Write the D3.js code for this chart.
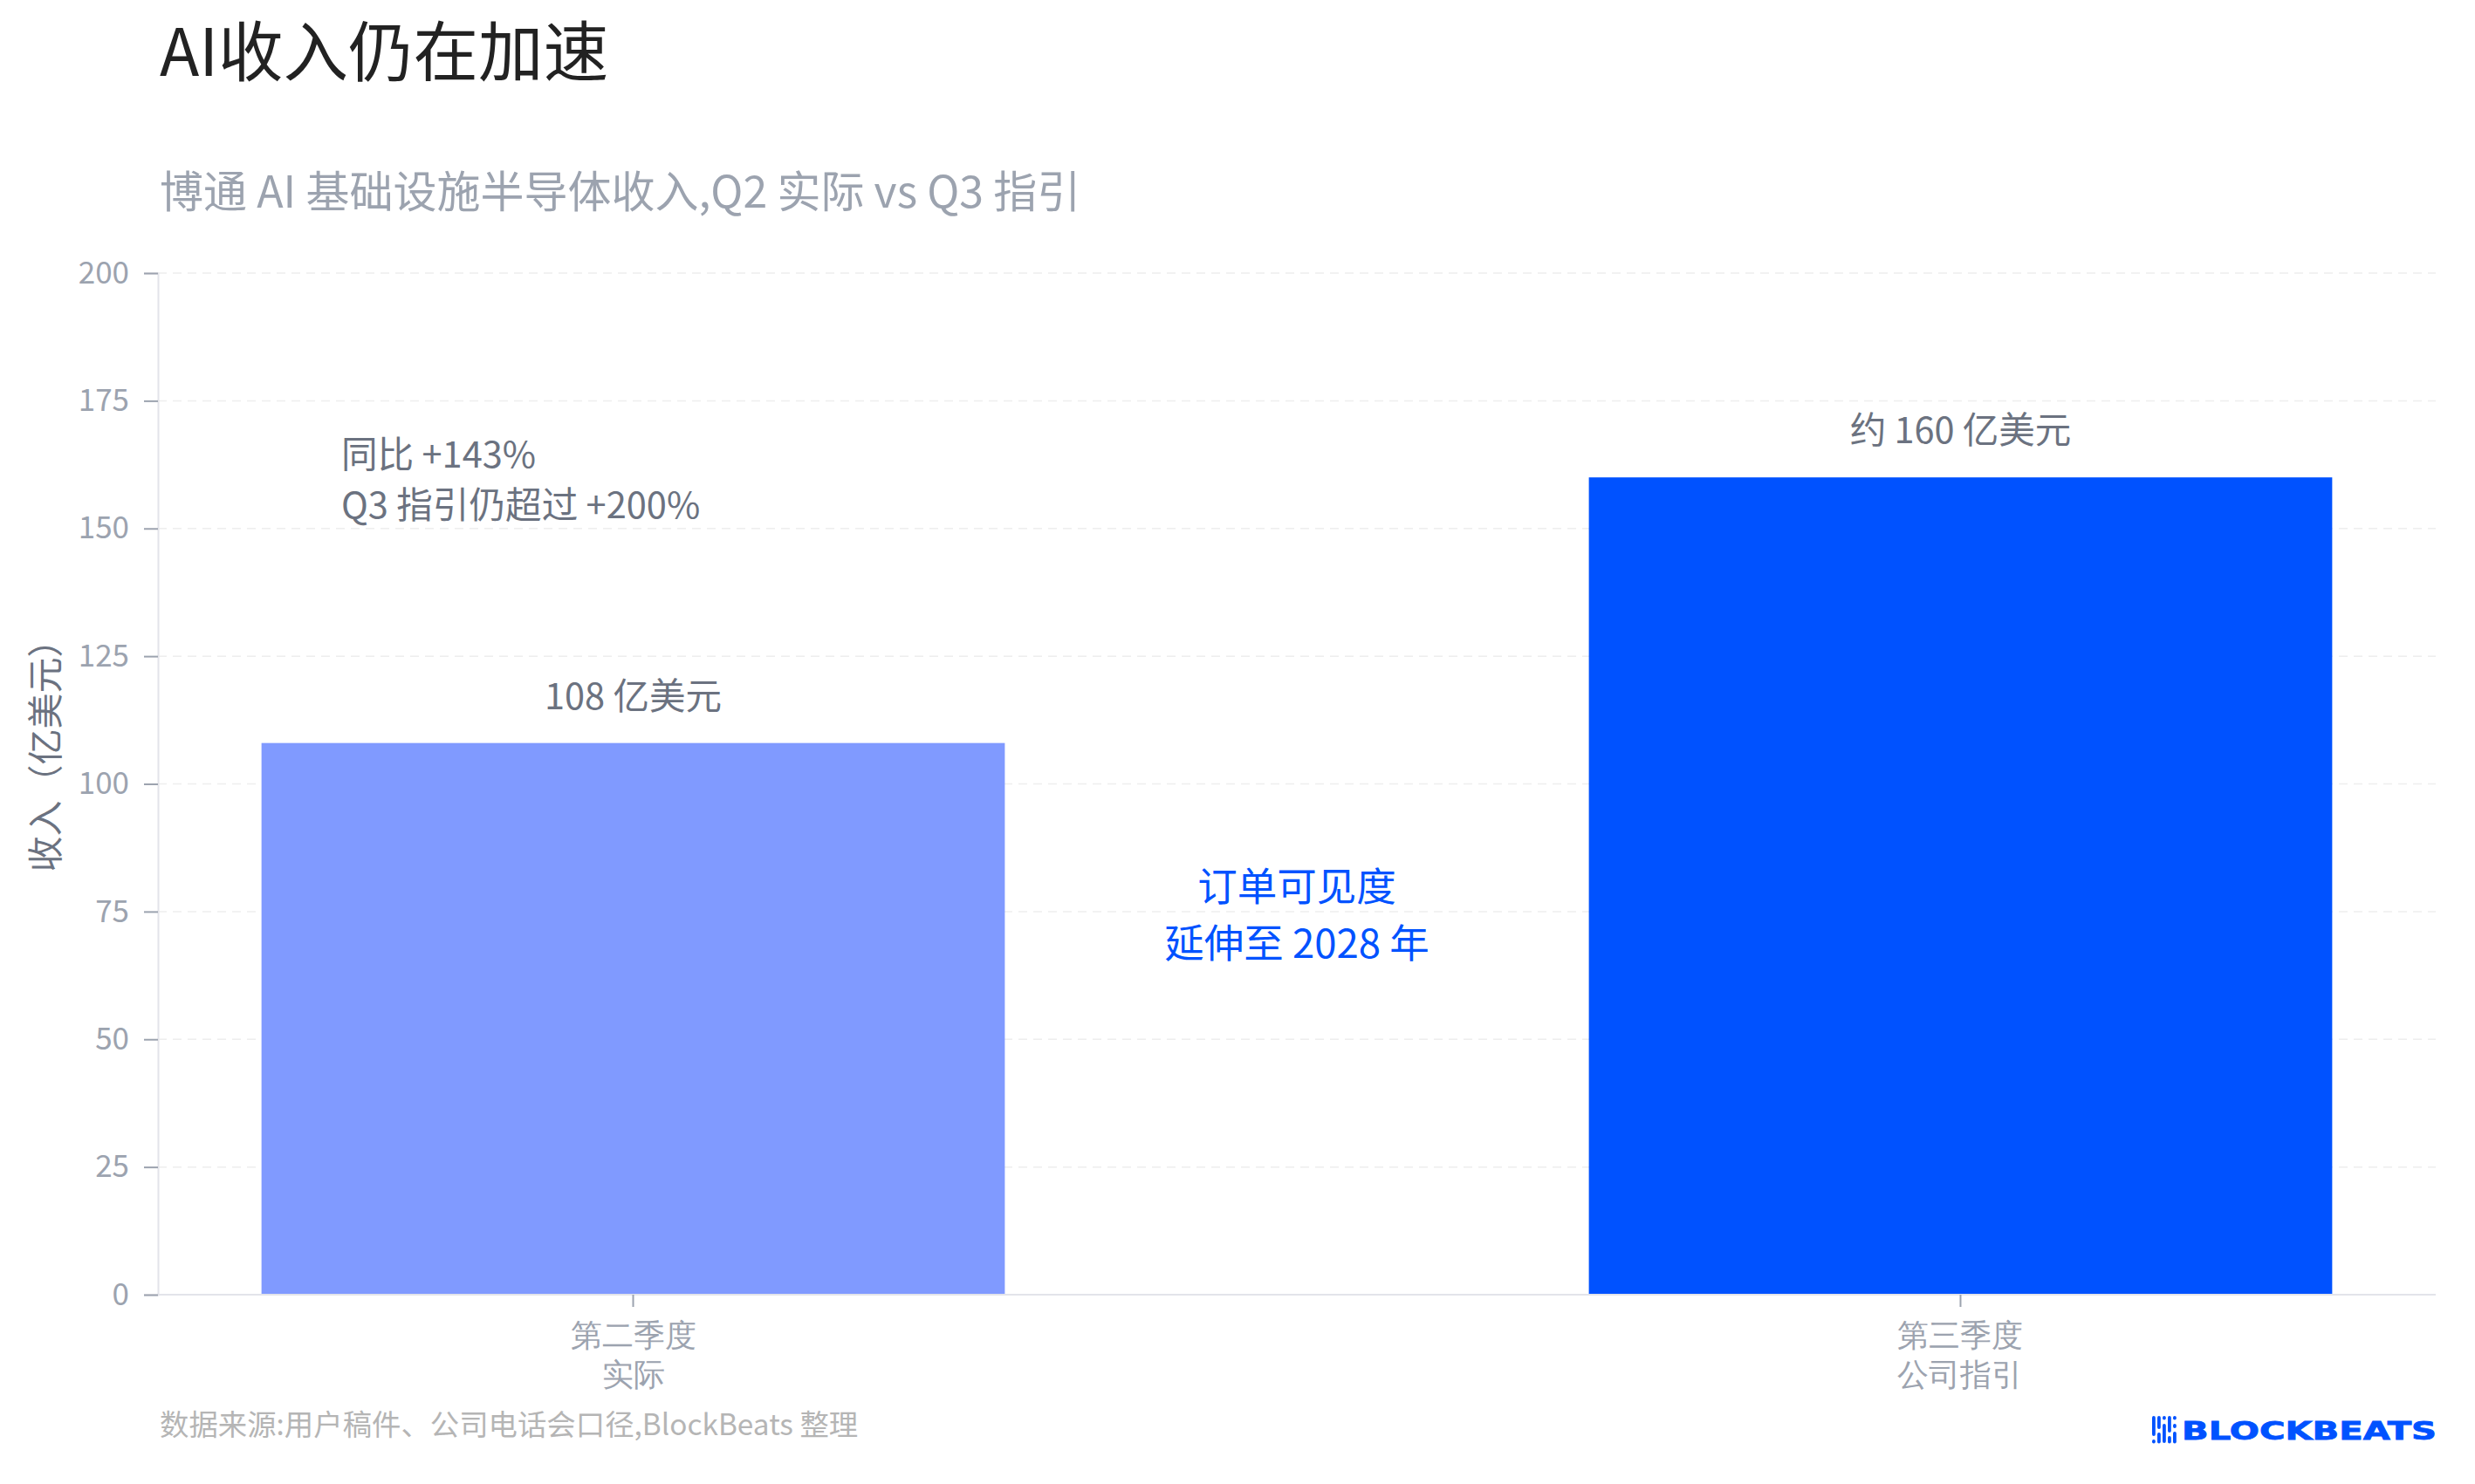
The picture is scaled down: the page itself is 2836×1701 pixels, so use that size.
<!DOCTYPE html>
<html>
<head>
<meta charset="utf-8">
<script src="https://cdn.jsdelivr.net/npm/d3@7/dist/d3.min.js"></script>
<style>
  html, body { margin: 0; padding: 0; background: #ffffff; }
  svg { display: block; font-family: "Noto Sans CJK SC", "Noto Sans", sans-serif; }
</style>
</head>
<body>
<svg id="chart" width="2836" height="1701"></svg>
<script>
// ---- data ----
const categories = ["第二季度\n实际", "第三季度\n公司指引"];
const values = [108, 160];
const valueLabels = ["108 亿美元", "约 160 亿美元"];
const barColors = ["#809AFF", "#0052FF"];
const yTicks = [0, 25, 50, 75, 100, 125, 150, 175, 200];
const titleText = "AI收入仍在加速";
const subtitleText = "博通 AI 基础设施半导体收入,Q2 实际 vs Q3 指引";
const yAxisTitle = "收入（亿美元）";
const noteLeft = ["同比 +143%", "Q3 指引仍超过 +200%"];
const noteMid = ["订单可见度", "延伸至 2028 年"];
const footerText = "数据来源:用户稿件、公司电话会口径,BlockBeats 整理";
const logoText = "BLOCKBEATS";

// ---- layout ----
const W = 2836, H = 1701;
const m = { left: 181, right: 2791, top: 313, bottom: 1484 };
const svg = d3.select("#chart");

const x = d3.scaleBand().domain(categories).range([m.left, m.right])
  .paddingInner(0.44).paddingOuter(0.078);
const y = d3.scaleLinear().domain([0, 200]).range([m.bottom, m.top]);

// title & subtitle
svg.append("text").attr("x", 183).attr("y", 87)
  .attr("font-size", 74.5).attr("fill", "#222222").text(titleText);
svg.append("text").attr("x", 183).attr("y", 238)
  .attr("font-size", 50).attr("fill", "#9CA3AF").text(subtitleText);

// gridlines
svg.append("g").selectAll("line").data(yTicks.filter(d => d > 0)).join("line")
  .attr("x1", m.left).attr("x2", m.right)
  .attr("y1", d => y(d)).attr("y2", d => y(d))
  .attr("stroke", "#EEEEEE").attr("stroke-width", 1.5)
  .attr("stroke-dasharray", "10,7");

// y axis
const yAxis = svg.append("g").attr("transform", `translate(${m.left},0)`)
  .call(d3.axisLeft(y).tickValues(yTicks).tickSize(16).tickPadding(17));
yAxis.select(".domain").attr("stroke", "#E3E4EA").attr("stroke-width", 2);
yAxis.selectAll(".tick line").attr("stroke", "#9CA3AF").attr("stroke-width", 2);
yAxis.selectAll(".tick text").attr("font-size", 35).attr("fill", "#9CA3AF")
  .attr("font-family", "'Noto Sans CJK SC', sans-serif");

// bars
svg.append("g").selectAll("rect").data(values).join("rect")
  .attr("x", (d, i) => x(categories[i]))
  .attr("width", x.bandwidth())
  .attr("y", d => y(d))
  .attr("height", d => y(0) - y(d))
  .attr("fill", (d, i) => barColors[i]);

// x axis
const xAxis = svg.append("g").attr("transform", `translate(0,${m.bottom})`)
  .call(d3.axisBottom(x).tickSize(14).tickFormat(""));
xAxis.select(".domain").attr("stroke", "#E3E4EA").attr("stroke-width", 2)
  .attr("d", `M${m.left},0H${m.right}`);
xAxis.selectAll(".tick line").attr("stroke", "#9CA3AF").attr("stroke-width", 2);
xAxis.selectAll(".tick").each(function(d) {
  const lines = d.split("\n");
  d3.select(this).append("text")
    .selectAll("tspan").data(lines).join("tspan")
    .attr("x", 0).attr("y", (l, i) => 46 + i * 45)
    .attr("dominant-baseline", "central")
    .attr("text-anchor", "middle")
    .attr("font-size", 36).attr("fill", "#9CA3AF")
    .text(l => l);
});

// value labels
svg.append("g").selectAll("text").data(values).join("text")
  .attr("x", (d, i) => x(categories[i]) + x.bandwidth() / 2)
  .attr("y", d => y(d) - 57)
  .attr("text-anchor", "middle").attr("dominant-baseline", "central")
  .attr("font-size", 41.5).attr("fill", "#6B7280")
  .text((d, i) => valueLabels[i]);

// left annotation
svg.append("g").selectAll("text").data(noteLeft).join("text")
  .attr("x", 391).attr("y", (d, i) => 518 + i * 58)
  .attr("dominant-baseline", "central")
  .attr("font-size", 41.6).attr("fill", "#6B7280").text(d => d);

// middle annotation
const midX = (x(categories[0]) + x.bandwidth() + x(categories[1])) / 2;
svg.append("g").selectAll("text").data(noteMid).join("text")
  .attr("x", midX).attr("y", (d, i) => 1013 + i * 65)
  .attr("text-anchor", "middle").attr("dominant-baseline", "central")
  .attr("font-size", 45.5).attr("font-weight", 400).attr("fill", "#0052FF").text(d => d);

// y axis title
svg.append("text")
  .attr("transform", `translate(49,856) rotate(-90)`)
  .attr("text-anchor", "middle").attr("dominant-baseline", "central")
  .attr("font-size", 41).attr("fill", "#6B7280").text(yAxisTitle);

// footer
svg.append("text").attr("x", 183).attr("y", 1630)
  .attr("dominant-baseline", "central")
  .attr("font-size", 33.4).attr("fill", "#B5B5B5").text(footerText);

// logo
const logo = svg.append("g").attr("fill", "#0052FF");
const logoBars = [
  [2466, 1623, 23], [2466, 1650, 4.5],
  [2472, 1623, 15], [2472, 1642, 12.5],
  [2478, 1623, 4.5], [2478, 1632, 22],
  [2484, 1623, 19], [2484, 1646, 8.5],
  [2490, 1623, 4.5], [2490, 1632, 5], [2490, 1641, 13.5]
];
logo.selectAll("rect").data(logoBars).join("rect")
  .attr("x", d => d[0]).attr("y", d => d[1]).attr("width", 3.8).attr("height", d => d[2])
  .attr("rx", 1.9);
logo.append("text").attr("x", 2500).attr("y", 1650)
  .attr("font-size", 28).attr("font-weight", 700)
  .attr("font-family", "'DejaVu Sans', sans-serif")
  .attr("stroke", "#0052FF").attr("stroke-width", 0.8)
  .attr("textLength", 292).attr("lengthAdjust", "spacingAndGlyphs")
  .text(logoText);
</script>
</body>
</html>
